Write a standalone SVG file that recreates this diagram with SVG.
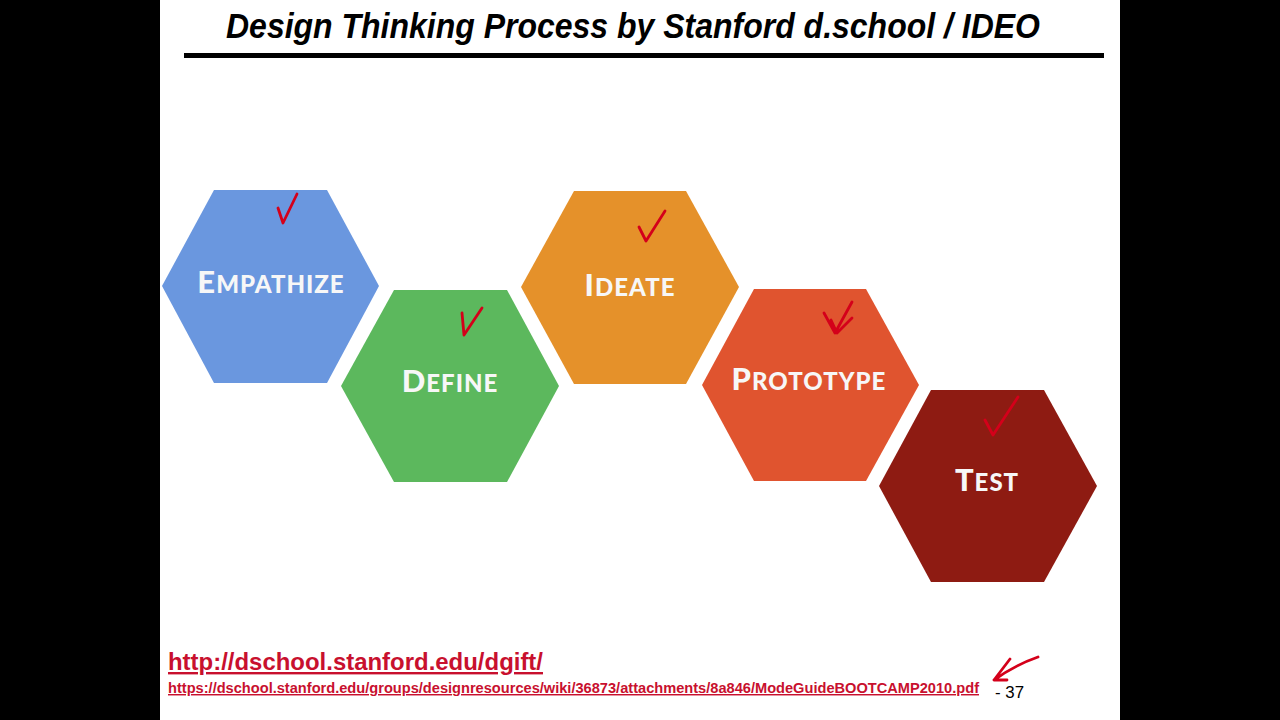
<svg xmlns="http://www.w3.org/2000/svg" width="1280" height="720" viewBox="0 0 1280 720">
<style>
.lbl{font-family:Lato,"Open Sans",sans-serif;font-weight:900;fill:#f7f7f7;text-anchor:middle;letter-spacing:1px}
.big{font-size:31px}
.sm{font-size:24px}
.chk{fill:none;stroke:#d4001a;stroke-width:2.8;stroke-linecap:round;stroke-linejoin:round}
.link{font-family:"Liberation Sans",Arial,sans-serif;font-weight:bold;fill:#c8102e;text-decoration:underline}
</style>
<rect x="0" y="0" width="1280" height="720" fill="#000"/>
<rect x="160" y="0" width="960" height="720" fill="#fff"/>
<g id="title">
<text x="226" y="38" font-family="'Liberation Sans',Arial,sans-serif" font-weight="bold" font-style="italic" font-size="35" textLength="814" lengthAdjust="spacingAndGlyphs" fill="#000">Design Thinking Process by Stanford d.school / IDEO</text>
<rect x="184" y="53" width="920" height="5" fill="#000"/>
</g>
<g id="empathize">
<polygon points="214,190 327,190 379,286 327,383 214,383 162,286" fill="#6a97df"/>
<text class="lbl" x="271" y="293"><tspan class="big">E</tspan><tspan class="sm">MPATHIZE</tspan></text>
<path class="chk" d="M278,208 L283,223 L297,194"/>
</g>
<g id="define">
<polygon points="394,290 507,290 559,386 507,482 394,482 341,386" fill="#5cb85d"/>
<text class="lbl" x="450" y="392"><tspan class="big">D</tspan><tspan class="sm">EFINE</tspan></text>
<path class="chk" d="M462,313 L464,335 L482,308"/>
</g>
<g id="ideate">
<polygon points="574,191 686,191 739,287 686,384 574,384 521,287" fill="#e5912a"/>
<text class="lbl" x="630" y="296"><tspan class="big">I</tspan><tspan class="sm">DEATE</tspan></text>
<path class="chk" d="M639,227 L646,241 L665,211"/>
</g>
<g id="prototype">
<polygon points="754,289 866,289 919,385 866,481 754,481 702,385" fill="#e0542f"/>
<text class="lbl" x="809" y="390"><tspan class="big">P</tspan><tspan class="sm">ROTOTYPE</tspan></text>
<path class="chk" d="M824,313 L835,333 L852,302 M831,320 L837,333 L852,318"/>
</g>
<g id="test">
<polygon points="931,390 1044,390 1097,486 1044,582 931,582 879,486" fill="#8e1b12"/>
<text class="lbl" x="987" y="491"><tspan class="big">T</tspan><tspan class="sm">EST</tspan></text>
<path class="chk" d="M985,420 L993,435 L1018,397"/>
</g>
<g id="links">
<text class="link" x="168" y="670" font-size="24" textLength="375" lengthAdjust="spacingAndGlyphs">http://dschool.stanford.edu/dgift/</text>
<text class="link" x="168" y="693" font-size="14.5" textLength="811" lengthAdjust="spacingAndGlyphs">https://dschool.stanford.edu/groups/designresources/wiki/36873/attachments/8a846/ModeGuideBOOTCAMP2010.pdf</text>
<text x="995" y="698" font-family="'Liberation Sans',Arial,sans-serif" font-size="17" textLength="29" lengthAdjust="spacingAndGlyphs" fill="#000">- 37</text>
<path class="chk" stroke-width="3" d="M1038,657 Q1015,665 994,680 M994,680 L1010,659 M994,680 L1007,680"/>
</g>
</svg>
